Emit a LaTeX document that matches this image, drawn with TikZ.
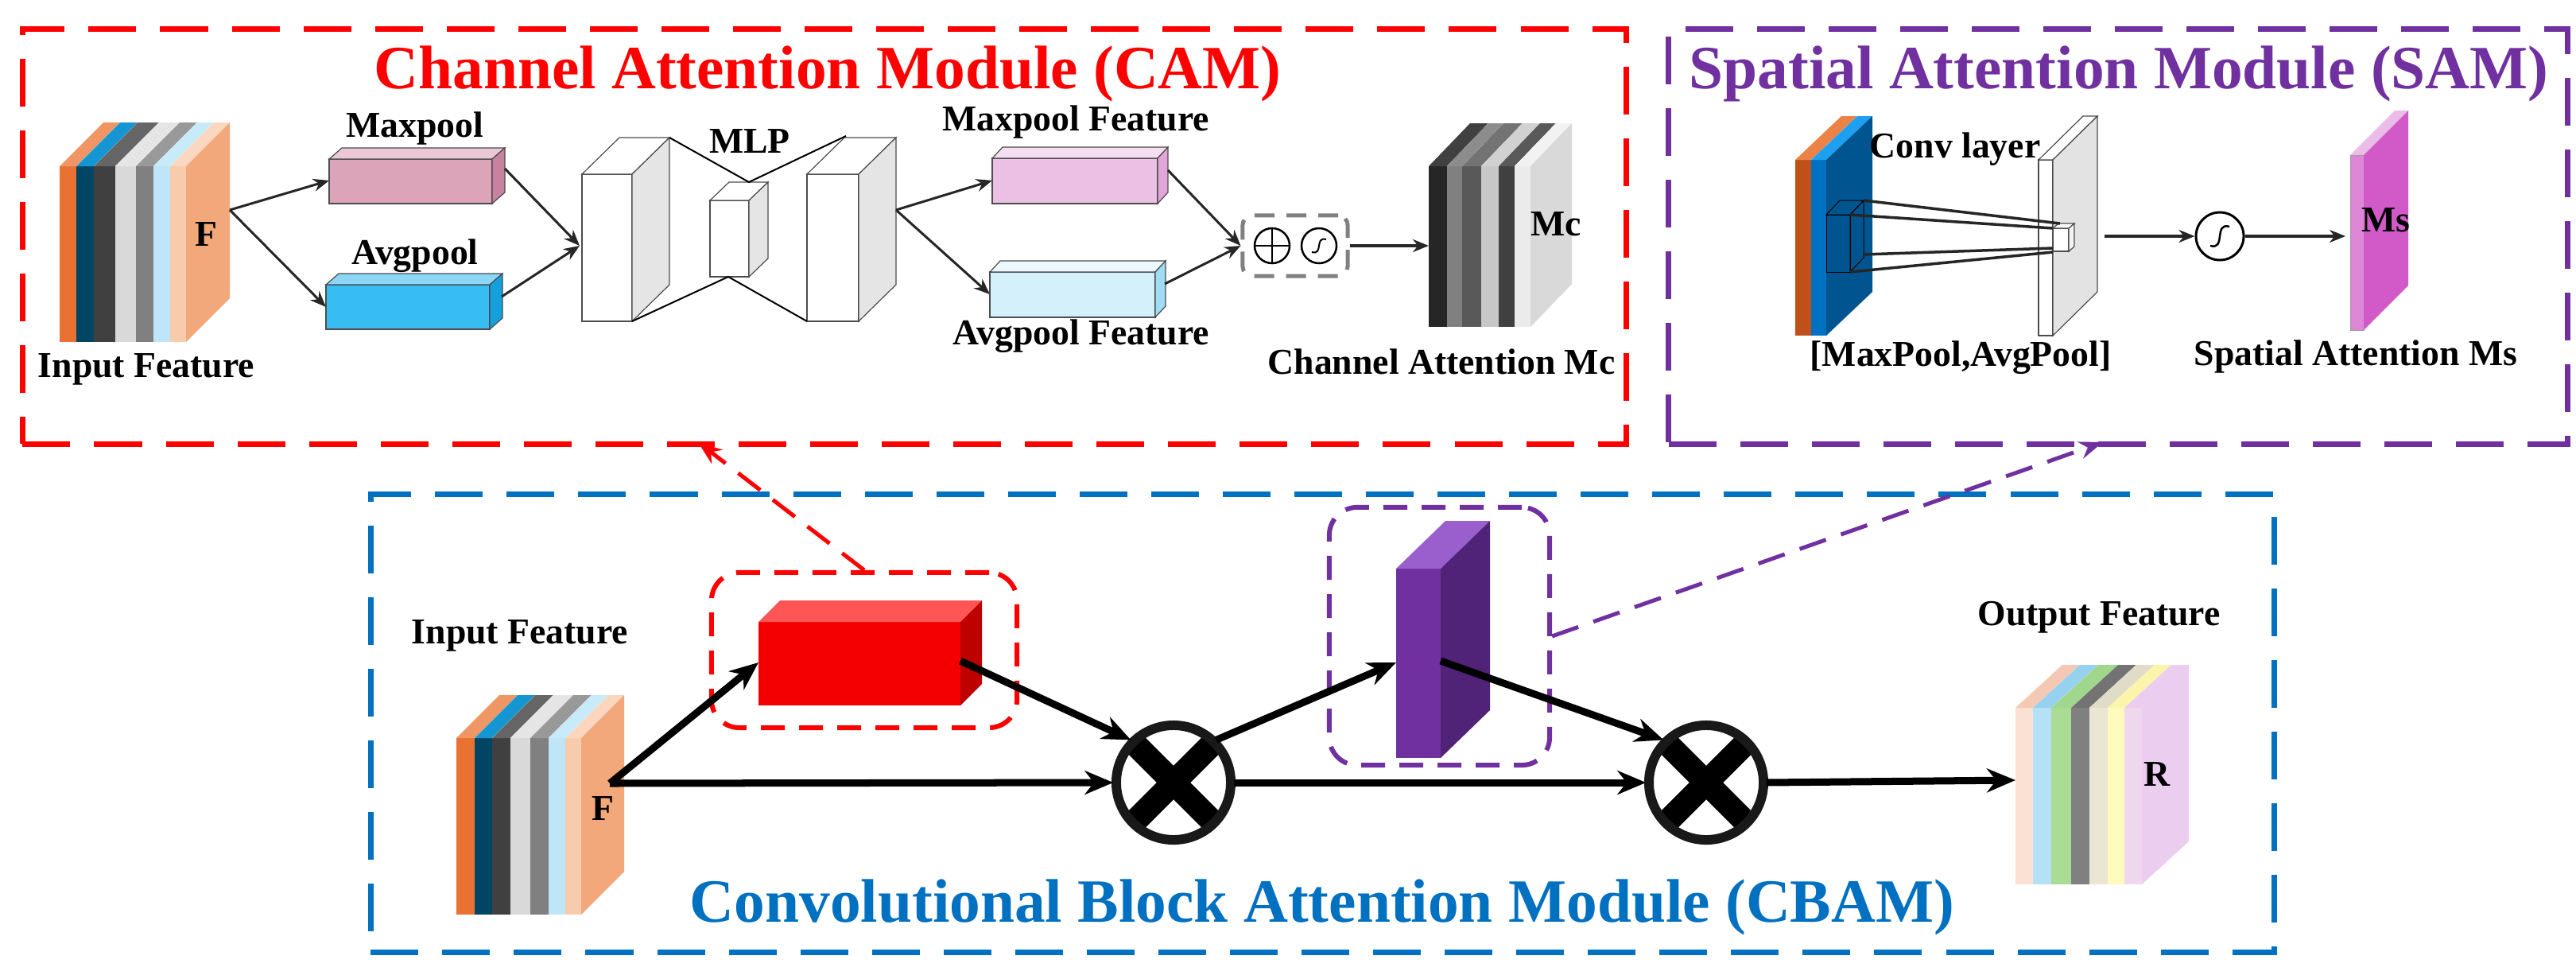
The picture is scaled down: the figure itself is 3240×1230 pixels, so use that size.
\documentclass[tikz,border=0pt]{standalone}
\usepackage{fontspec}
\setmainfont{Liberation Serif}
\usetikzlibrary{arrows.meta}
\definecolor{camred}{RGB}{255,0,0}
\definecolor{sampur}{RGB}{112,48,160}
\definecolor{cbblue}{RGB}{0,112,192}
\newcommand\myslab[9]{%
 \path[#7] (#1,#3) rectangle (#2,#4);
 \path[#8] (#1,#3) -- (#1+#5,#3-#6) -- (#2+#5,#3-#6) -- (#2,#3) -- cycle;
 \path[#9] (#2,#3) -- (#2+#5,#3-#6) -- (#2+#5,#4-#6) -- (#2,#4) -- cycle;}
\tikzset{
 lab/.style={font=\fontsize{13}{15}\selectfont\bfseries,inner sep=0pt},
 ttl/.style={font=\fontsize{22}{26}\selectfont\bfseries,inner sep=0pt},
 frame/.style={draw,line width=0.07cm,dash pattern=on 0.6cm off 0.3cm,minimum width=#1,inner sep=0pt},
 thin/.style={line width=0.03cm,draw=black!85,-{Stealth[length=0.2cm,width=0.16cm]}},
 thick/.style={line width=0.09cm,-{Stealth[length=0.36cm,width=0.3cm]}},
 ol/.style={draw=black!70,line width=0.012cm},
}
\begin{document}
\begin{tikzpicture}[x=0.01cm,y=-0.01cm]
\useasboundingbox[fill=white] (0,0) rectangle (3240,1230);
% ---------- frames
\node[frame=20.16cm,draw=camred,minimum height=5.21cm] (cam) at (1037,297.5) {};
\node[frame=11.3cm,draw=sampur,minimum height=5.21cm] (sam) at (2664,297.5) {};
\node[frame=23.93cm,draw=cbblue,minimum height=5.75cm] (cbam) at (1663.5,909.5) {};
\node[ttl,text=camred] (camt) at (1041,93) {Channel Attention Module (CAM)};
\node[ttl,text=sampur] (samt) at (2665,93) {Spatial Attention Module (SAM)};
\node[ttl,text=cbblue] (cbamt) at (1663,1141) {Convolutional Block Attention Module (CBAM)};
% ---------- CAM input stack
\myslab{75}{96}{209}{430}{55}{55}{fill={rgb,255:red,233;green,113;blue,50}}{fill={rgb,255:red,240;green,150;blue,100}}{fill=white}
\myslab{96}{118}{209}{430}{55}{55}{fill={rgb,255:red,0;green,70;blue,100}}{fill={rgb,255:red,20;green,150;blue,210}}{fill=white}
\myslab{118}{145}{209}{430}{55}{55}{fill=black!75}{fill=black!60}{fill=white}
\myslab{145}{171}{209}{430}{55}{55}{fill=black!15}{fill=black!10}{fill=white}
\myslab{171}{193}{209}{430}{55}{55}{fill=black!50}{fill=black!40}{fill=white}
\myslab{193}{214}{209}{430}{55}{55}{fill={rgb,255:red,190;green,230;blue,248}}{fill={rgb,255:red,200;green,235;blue,250}}{fill=white}
\myslab{214}{234}{209}{430}{55}{55}{fill={rgb,255:red,248;green,203;blue,173}}{fill={rgb,255:red,250;green,215;blue,190}}{fill={rgb,255:red,242;green,168;blue,122}}
\coordinate (inF) at (289,264);
\node[lab] (inlab) at (184,464) {Input Feature};
\node[lab] (Flab) at (259,295) {F};
% pools
\myslab{414}{619}{200}{256}{16}{14}{fill={rgb,255:red,219;green,164;blue,184},ol}{fill={rgb,255:red,236;green,200;blue,215},ol}{fill={rgb,255:red,200;green,130;blue,160},ol}
\myslab{410}{616}{358}{414}{16}{14}{fill={rgb,255:red,56;green,189;blue,242},ol}{fill={rgb,255:red,140;green,215;blue,245},ol}{fill={rgb,255:red,20;green,160;blue,220},ol}
\coordinate (mpL) at (414,227); \coordinate (apL) at (410,386);
\coordinate (mpR) at (635,212); \coordinate (apR) at (631,373);
\node[lab] (mplab) at (522,162) {Maxpool};
\node[lab] (aplab) at (522,322) {Avgpool};
% MLP
\coordinate (l1) at (842,173); \coordinate (l2) at (795,404);
\coordinate (s1) at (942,229); \coordinate (s2) at (916,348);
\coordinate (r1) at (1064,171); \coordinate (r2) at (1015,404);
\myslab{732}{795}{219}{404}{47}{46}{fill=white,ol}{fill=white,ol}{fill=black!10,ol}
\myslab{893}{942}{252}{348}{24}{23}{fill=white,ol}{fill=white,ol}{fill=black!10,ol}
\myslab{1015}{1080}{219}{404}{47}{46}{fill=white,ol}{fill=white,ol}{fill=black!10,ol}
\draw[line width=0.02cm] (l1) -- (s1) -- (r1);
\draw[line width=0.02cm] (l2) -- (s2) -- (r2);
\node[lab] (mlplab) at (943,178) {MLP};
\coordinate (mlpL) at (729,309); \coordinate (mlpR) at (1127,264);
\draw[thin] (inF) -- (mpL); \draw[thin] (inF) -- (apL);
\draw[thin] (mpR) -- (mlpL); \draw[thin] (apR) -- (mlpL);
% features
\myslab{1248}{1456}{199}{256}{13}{14}{fill={rgb,255:red,236;green,192;blue,228},ol}{fill={rgb,255:red,245;green,222;blue,240},ol}{fill={rgb,255:red,225;green,165;blue,215},ol}
\myslab{1245}{1453}{342}{399}{13}{14}{fill={rgb,255:red,212;green,240;blue,251},ol}{fill={rgb,255:red,235;green,248;blue,253},ol}{fill={rgb,255:red,160;green,220;blue,245},ol}
\coordinate (mfL) at (1248,227); \coordinate (afL) at (1245,370);
\coordinate (mfR) at (1469,214); \coordinate (afR) at (1465,357);
\node[lab] (mflab) at (1353,154) {Maxpool Feature};
\node[lab] (aflab) at (1360,423) {Avgpool Feature};
\draw[thin] (mlpR) -- (mfL); \draw[thin] (mlpR) -- (afL);
% plus / sigmoid
\node[draw=black!50,line width=0.05cm,dash pattern=on 0.25cm off 0.15cm,rounded corners=0.12cm,minimum width=1.32cm,minimum height=0.76cm] (grp) at (1629,309) {};
\node[draw,circle,line width=0.025cm,minimum size=0.44cm,inner sep=0pt] (plus) at (1600,309) {};
\draw[line width=0.025cm] (plus.north) -- (plus.south) (plus.west) -- (plus.east);
\node[draw,circle,line width=0.025cm,minimum size=0.44cm,inner sep=0pt] (sig1) at (1659,309) {};
\draw[line width=0.02cm] ([shift={(-9,8)}]sig1.center) .. controls ([shift={(6,12)}]sig1.center) and ([shift={(-6,-12)}]sig1.center) .. ([shift={(9,-8)}]sig1.center);
\draw[thin] (mfR) -- (grp.west); \draw[thin] (afR) -- (grp.west);
% Mc stack
\myslab{1797}{1820}{209}{411}{52}{54}{fill=black!85}{fill=black!75}{fill=white}
\myslab{1820}{1839}{209}{411}{52}{54}{fill=black!50}{fill=black!45}{fill=white}
\myslab{1839}{1863}{209}{411}{52}{54}{fill=black!65}{fill=black!55}{fill=white}
\myslab{1863}{1885}{209}{411}{52}{54}{fill=black!22}{fill=black!18}{fill=white}
\myslab{1885}{1905}{209}{411}{52}{54}{fill=black!75}{fill=black!65}{fill=white}
\myslab{1905}{1925}{209}{411}{52}{54}{fill=black!8}{fill=black!5}{fill=black!15}
\coordinate (mcL) at (1797,309);
\draw[thin,line width=0.04cm] (grp.east) -- (mcL);
\node[lab] (mclab) at (1957,282) {Mc};
\node[lab] (calab) at (1813,455) {Channel Attention Mc};
% ---------- SAM
\myslab{2258}{2278}{201}{422}{58}{55}{fill={rgb,255:red,192;green,80;blue,25}}{fill={rgb,255:red,235;green,130;blue,70}}{fill=white}
\myslab{2278}{2297}{201}{422}{58}{55}{fill={rgb,255:red,0;green,112;blue,192}}{fill={rgb,255:red,30;green,160;blue,240}}{fill={rgb,255:red,0;green,85;blue,145}}
\myslab{2297}{2327}{270}{342}{17}{18}{draw=black,line width=0.01cm}{draw=black,line width=0.01cm}{draw=black,line width=0.01cm}
\myslab{2564}{2582}{201}{422}{56}{55}{fill=white,ol}{fill=white,ol}{fill=black!11,ol}
\myslab{2582}{2602}{287}{316}{7}{6}{fill=white,ol}{fill=white,ol}{fill=black!5,ol}
\coordinate (k1) at (2344,252); \coordinate (k2) at (2327,270);
\coordinate (k3) at (2344,320); \coordinate (k4) at (2327,342);
\coordinate (c1) at (2591,281); \coordinate (c2) at (2582,287);
\coordinate (c3) at (2582,312); \coordinate (c4) at (2582,317);
\draw[line width=0.035cm,black!85] (k1) -- (c1) (k2) -- (c2) (k3) -- (c3) (k4) -- (c4);
\node[lab] (convlab) at (2459,188) {Conv layer};
\node[lab] (mxlab) at (2466,450) {[MaxPool,AvgPool]};
\coordinate (convR) at (2647,297);
\node[draw,circle,line width=0.03cm,minimum size=0.6cm,inner sep=0pt] (sig2) at (2792,297) {};
\draw[line width=0.025cm] ([shift={(-12,12)}]sig2.center) .. controls ([shift={(8,18)}]sig2.center) and ([shift={(-8,-18)}]sig2.center) .. ([shift={(12,-12)}]sig2.center);
\myslab{2956}{2973}{195}{415}{56}{56}{fill={rgb,255:red,222;green,135;blue,215},draw=black!40,line width=0.01cm}{fill={rgb,255:red,236;green,188;blue,232}}{fill={rgb,255:red,210;green,90;blue,200}}
\coordinate (msL) at (2950,297);
\draw[thin,line width=0.045cm] (convR) -- (sig2.west);
\draw[thin,line width=0.045cm] (sig2.east) -- (msL);
\node[lab] (mslab) at (3001,277) {Ms};
\node[lab] (salab) at (2963,448) {Spatial Attention Ms};
% ---------- CBAM
\myslab{574}{597}{928}{1150}{54}{54}{fill={rgb,255:red,233;green,113;blue,50}}{fill={rgb,255:red,240;green,150;blue,100}}{fill=white}
\myslab{597}{619}{928}{1150}{54}{54}{fill={rgb,255:red,0;green,70;blue,100}}{fill={rgb,255:red,20;green,150;blue,210}}{fill=white}
\myslab{619}{642}{928}{1150}{54}{54}{fill=black!75}{fill=black!60}{fill=white}
\myslab{642}{667}{928}{1150}{54}{54}{fill=black!15}{fill=black!10}{fill=white}
\myslab{667}{690}{928}{1150}{54}{54}{fill=black!50}{fill=black!40}{fill=white}
\myslab{690}{711}{928}{1150}{54}{54}{fill={rgb,255:red,190;green,230;blue,248}}{fill={rgb,255:red,200;green,235;blue,250}}{fill=white}
\myslab{711}{731}{928}{1150}{54}{54}{fill={rgb,255:red,248;green,203;blue,173}}{fill={rgb,255:red,250;green,215;blue,190}}{fill={rgb,255:red,242;green,168;blue,122}}
\node[lab] (in2lab) at (654,799) {Input Feature};
\node[lab] (F2lab) at (758,1017) {F};
\coordinate (F2) at (767,985);
% red cube
\node[draw=camred,line width=0.06cm,dash pattern=on 0.3cm off 0.18cm,rounded corners=0.35cm,minimum width=3.84cm,minimum height=1.95cm] (redbox) at (1087,817.5) {};
\myslab{954}{1208}{782}{887}{27}{27}{fill={rgb,255:red,245;green,0;blue,0}}{fill={rgb,255:red,255;green,85;blue,85}}{fill={rgb,255:red,190;green,0;blue,0}}
\coordinate (rcL) at (954,833); \coordinate (rcR) at (1208,831);
% purple slab
\node[draw=sampur,line width=0.06cm,dash pattern=on 0.3cm off 0.18cm,rounded corners=0.35cm,minimum width=2.77cm,minimum height=3.24cm] (purbox) at (1810.5,800) {};
\myslab{1756}{1812}{715}{953}{62}{60}{fill=sampur}{fill={rgb,255:red,155;green,95;blue,205}}{fill={rgb,255:red,80;green,35;blue,120}}
\coordinate (psL) at (1756,833); \coordinate (psR) at (1812,831);
% otimes
\foreach \n/\cx in {ot1/1476,ot2/2146}{
 \node[circle,fill=white,minimum size=1.5cm,inner sep=0pt] (\n) at (\cx,984) {};
 \begin{scope}
 \clip (\n.center) circle (0.72cm);
 \draw[line width=0.3cm] ([shift={(-80,-80)}]\n.center) -- ([shift={(80,80)}]\n.center)
   ([shift={(-80,80)}]\n.center) -- ([shift={(80,-80)}]\n.center);
 \end{scope}
 \draw[line width=0.12cm,black!90] (\n.center) circle (0.72cm);
}
% output stack
\myslab{2535}{2557}{890}{1112}{59}{54}{fill={rgb,255:red,250;green,225;blue,210}}{fill={rgb,255:red,245;green,200;blue,180}}{fill=white}
\myslab{2557}{2580}{890}{1112}{59}{54}{fill={rgb,255:red,180;green,225;blue,245}}{fill={rgb,255:red,150;green,210;blue,240}}{fill=white}
\myslab{2580}{2605}{890}{1112}{59}{54}{fill={rgb,255:red,170;green,220;blue,150}}{fill={rgb,255:red,160;green,215;blue,140}}{fill=white}
\myslab{2605}{2628}{890}{1112}{59}{54}{fill=black!50}{fill=black!55}{fill=white}
\myslab{2628}{2651}{890}{1112}{59}{54}{fill={rgb,255:red,235;green,230;blue,210}}{fill={rgb,255:red,225;green,220;blue,200}}{fill=white}
\myslab{2651}{2672}{890}{1112}{59}{54}{fill={rgb,255:red,255;green,250;blue,190}}{fill={rgb,255:red,250;green,245;blue,170}}{fill=white}
\myslab{2672}{2694}{890}{1112}{59}{54}{fill={rgb,255:red,240;green,215;blue,240}}{fill={rgb,255:red,235;green,205;blue,240}}{fill={rgb,255:red,235;green,205;blue,240}}
\node[lab] (outlab) at (2640,776) {Output Feature};
\node[lab] (Rlab) at (2713,974) {R};
\coordinate (outL) at (2535,981);
% thick arrows
\draw[thick] (F2) -- (rcL);
\draw[thick] (F2) -- (ot1.west);
\draw[thick] (rcR) -- (ot1.north west);
\draw[thick] (ot1.north east) -- (psL);
\draw[thick] (psR) -- (ot2.north west);
\draw[thick] (ot1.east) -- (ot2.west);
\draw[thick] (ot2.east) -- (outL);
% dashed links
\coordinate (camtip) at (878,556);
\coordinate (samtip) at (2645,556);
\draw[camred,line width=0.05cm,dash pattern=on 0.35cm off 0.2cm,-{Stealth[length=0.3cm,width=0.22cm]}] (redbox.north) -- (camtip);
\draw[sampur,line width=0.05cm,dash pattern=on 0.35cm off 0.2cm,-{Stealth[length=0.3cm,width=0.22cm]}] (purbox.east) -- (samtip);
\end{tikzpicture}
\end{document}
